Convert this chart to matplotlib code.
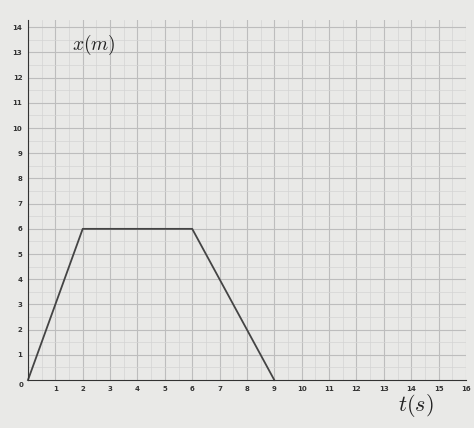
import matplotlib.pyplot as plt
import numpy as np

plt.rcParams['mathtext.fontset'] = 'cm'

t = [0, 2, 6, 9]
x = [0, 6, 6, 0]
xticks = list(range(0, 17))
yticks = list(range(1, 15))

fig = plt.figure(figsize=(4.74, 4.28), dpi=100)
fig.patch.set_facecolor('#e9e9e7')
ax = fig.add_axes([0.059, 0.112, 0.924, 0.842])
ax.set_facecolor('#e9e9e7')
ax.set_xlim(0, 16)
ax.set_ylim(0, 14.3)
ax.set_xticks(xticks)
ax.set_yticks(yticks)
ax.set_xticks(np.arange(0, 16.01, 0.5), minor=True)
ax.set_yticks(np.arange(0, 14.01, 0.5), minor=True)
ax.grid(which='major', color='#bdbdbd', lw=0.8)
ax.grid(which='minor', color='#d4d4d4', lw=0.5)
ax.tick_params(which='both', length=0, labelsize=5, colors='#333333', pad=4)
ax.set_xticklabels([str(v) if v else '' for v in xticks], fontweight='bold')
ax.set_yticklabels([str(v) for v in yticks], fontweight='bold')
for s in ['top', 'right']:
    ax.spines[s].set_visible(False)
ax.spines['left'].set_color('#333333')
ax.spines['bottom'].set_color('#333333')
ax.plot(t, x, color='#444444', lw=1.3, clip_on=False)
fig.text(0.045, 0.1, '0', fontsize=5, fontweight='bold', ha='center', va='center', color='#333333')
ax.text(1.6, 13.1, r'$x(m)$', fontsize=14, color='#222222')
fig.text(0.84, 0.04, r'$t(s)$', fontsize=16, color='#222222')
fig.savefig('out.png', dpi=100, facecolor=fig.get_facecolor())
